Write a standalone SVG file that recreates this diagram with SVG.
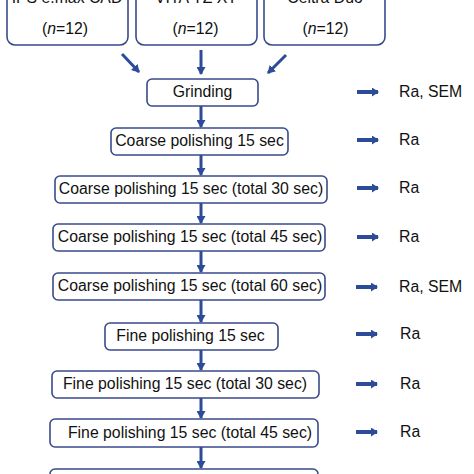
<svg xmlns="http://www.w3.org/2000/svg" width="474" height="474" viewBox="0 0 474 474">
<style>
.box{fill:#fff;stroke:#3a4a8a;stroke-width:1.6}
.t{font-family:"Liberation Sans",Arial,sans-serif;font-size:15.8px;fill:#111;text-anchor:middle}
.l{font-family:"Liberation Sans",Arial,sans-serif;font-size:15.8px;fill:#111}
.a{stroke:#2c4b98;stroke-width:3;fill:none}
.ar{stroke:#2c4b98;stroke-width:4;fill:none}
</style>
<defs>
<marker id="h" markerUnits="userSpaceOnUse" markerWidth="9" markerHeight="9" refX="7" refY="4.5" orient="auto">
<path d="M0,0 L8,4.5 L0,9 z" fill="#2c4b98"/>
</marker>
<marker id="hr" markerUnits="userSpaceOnUse" markerWidth="8" markerHeight="9" refX="6" refY="4.5" orient="auto">
<path d="M0,0 L7,4.5 L0,9 z" fill="#2c4b98"/>
</marker>
</defs>
<rect width="474" height="474" fill="#fff"/>
<g id="connectors">
<line class="a" x1="122" y1="54" x2="139" y2="72" marker-end="url(#h)"/>
<line class="a" x1="201" y1="50" x2="201" y2="74" marker-end="url(#h)"/>
<line class="a" x1="286" y1="55" x2="268" y2="73" marker-end="url(#h)"/>
<line class="a" x1="201" y1="106" x2="201" y2="127" marker-end="url(#h)"/>
<line class="a" x1="201" y1="155" x2="201" y2="175" marker-end="url(#h)"/>
<line class="a" x1="201" y1="203" x2="201" y2="223" marker-end="url(#h)"/>
<line class="a" x1="201" y1="251" x2="201" y2="272" marker-end="url(#h)"/>
<line class="a" x1="201" y1="300" x2="201" y2="322" marker-end="url(#h)"/>
<line class="a" x1="201" y1="350" x2="201" y2="370" marker-end="url(#h)"/>
<line class="a" x1="201" y1="398" x2="201" y2="418" marker-end="url(#h)"/>
<line class="a" x1="201" y1="447" x2="201" y2="468" marker-end="url(#h)"/>
<line class="ar" x1="357" y1="92" x2="378" y2="92" marker-end="url(#hr)"/>
<line class="ar" x1="357" y1="140" x2="378" y2="140" marker-end="url(#hr)"/>
<line class="ar" x1="357" y1="188" x2="378" y2="188" marker-end="url(#hr)"/>
<line class="ar" x1="357" y1="237" x2="378" y2="237" marker-end="url(#hr)"/>
<line class="ar" x1="356" y1="287" x2="377" y2="287" marker-end="url(#hr)"/>
<line class="ar" x1="356" y1="334" x2="377" y2="334" marker-end="url(#hr)"/>
<line class="ar" x1="356" y1="384" x2="377" y2="384" marker-end="url(#hr)"/>
<line class="ar" x1="356" y1="432" x2="377" y2="432" marker-end="url(#hr)"/>
</g>
<g id="ips">
<rect class="box" x="7" y="-40" width="121" height="85" rx="8"/>
<text class="t" x="67" y="3">IPS e.max CAD</text>
<text class="t" x="65" y="34">(<tspan font-style="italic">n</tspan>=12)</text>
</g>
<g id="vita">
<rect class="box" x="136" y="-40" width="121" height="85" rx="8"/>
<text class="t" x="196" y="3">VITA YZ XT</text>
<text class="t" x="195.5" y="34">(<tspan font-style="italic">n</tspan>=12)</text>
</g>
<g id="celtra">
<rect class="box" x="264" y="-40" width="121" height="85" rx="8"/>
<text class="t" x="325" y="3">Celtra Duo</text>
<text class="t" x="325.5" y="34">(<tspan font-style="italic">n</tspan>=12)</text>
</g>
<g id="grinding">
<rect class="box" x="147" y="79" width="111" height="27" rx="5"/>
<text class="t" x="202.5" y="97">Grinding</text>
</g>
<g id="c15">
<rect class="box" x="111" y="128" width="177" height="27" rx="5"/>
<text class="t" x="199.5" y="146">Coarse polishing 15 sec</text>
</g>
<g id="c30">
<rect class="box" x="55" y="176" width="272" height="27" rx="5"/>
<text class="t" x="191" y="194">Coarse polishing 15 sec (total 30 sec)</text>
</g>
<g id="c45">
<rect class="box" x="53" y="224" width="272" height="27" rx="5"/>
<text class="t" x="190" y="242">Coarse polishing 15 sec (total 45 sec)</text>
</g>
<g id="c60">
<rect class="box" x="53" y="273" width="272" height="27" rx="5"/>
<text class="t" x="190" y="291">Coarse polishing 15 sec (total 60 sec)</text>
</g>
<g id="f15">
<rect class="box" x="105" y="323" width="173" height="27" rx="5"/>
<text class="t" x="190.5" y="341">Fine polishing 15 sec</text>
</g>
<g id="f30">
<rect class="box" x="52" y="371" width="267" height="27" rx="5"/>
<text class="t" x="185" y="389">Fine polishing 15 sec (total 30 sec)</text>
</g>
<g id="f45">
<rect class="box" x="50" y="419" width="268" height="28" rx="5"/>
<text class="t" x="190" y="438">Fine polishing 15 sec (total 45 sec)</text>
</g>
<g id="next">
<rect class="box" x="50" y="469" width="268" height="27" rx="5"/>
</g>
<g id="labels">
<text class="l" x="399" y="97">Ra, SEM</text>
<text class="l" x="399" y="145">Ra</text>
<text class="l" x="399" y="193">Ra</text>
<text class="l" x="399" y="242">Ra</text>
<text class="l" x="399" y="292">Ra, SEM</text>
<text class="l" x="400" y="339">Ra</text>
<text class="l" x="400" y="389">Ra</text>
<text class="l" x="400" y="437">Ra</text>
</g>
</svg>
